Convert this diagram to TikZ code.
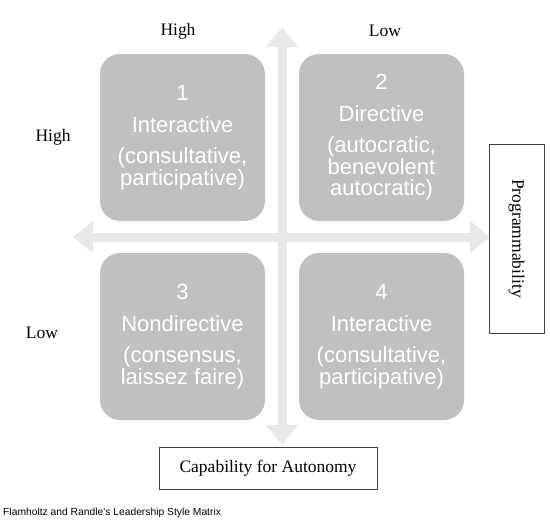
\documentclass[tikz,border=0pt]{standalone}
\usepackage{fontspec}
\setmainfont{Liberation Serif}
\setsansfont{Liberation Sans}
\usetikzlibrary{arrows.meta}
\definecolor{quadgray}{HTML}{C0C0C0}
\definecolor{axisgray}{HTML}{E8E8E8}
\definecolor{framegray}{HTML}{404040}

\begin{document}
\begin{tikzpicture}[x=1pt,y=-1pt,
    quad/.style={fill=quadgray, rounded corners=20pt, minimum width=165pt, minimum height=167pt,
      text=white, align=center, inner sep=0pt, font=\sffamily\fontsize{22}{21.5}\selectfont},
    axis/.style={draw=axisgray, line width=9pt,
      {Triangle[width=31pt,length=20pt]}-{Triangle[width=31pt,length=20pt]}},
    lbl/.style={font=\fontsize{17.5}{19}\selectfont},
    namebox/.style={draw=framegray, line width=1pt, fill=white, lbl}]
    \useasboundingbox (0,0) rectangle (550,525);

    \coordinate (vtop) at (282,27);
    \coordinate (vbot) at (282,445);
    \coordinate (hleft) at (73,237);
    \coordinate (hright) at (490,237);
    \draw[axis] (vtop) -- (vbot);
    \draw[axis] (hleft) -- (hright);

    \node[quad] (q1) at (182.5,137.5) {1\\[10pt]Interactive\\[10pt](consultative,\\participative)};
    \node[quad] (q2) at (381.5,137.5) {2\\[10pt]Directive\\[10pt](autocratic,\\benevolent\\autocratic)};
    \node[quad] (q3) at (182.5,336.5) {3\\[10pt]Nondirective\\[10pt](consensus,\\laissez faire)};
    \node[quad] (q4) at (381.5,336.5) {4\\[10pt]Interactive\\[10pt](consultative,\\participative)};

    \node[lbl] (colhigh) at (178,31) {High};
    \node[lbl] (collow) at (385,31) {Low};
    \node[lbl] (rowhigh) at (53,137) {High};
    \node[lbl] (rowlow) at (42,333) {Low};

    \node[namebox, rotate=-90, minimum width=189pt, minimum height=55pt] (prog) at (516.5,238.5) {Programmability};
    \node[namebox, minimum width=218pt, minimum height=42pt] (cap) at (268,468) {Capability for Autonomy};

    \node[anchor=west, inner sep=0pt, font=\sffamily\fontsize{10.3}{12}\selectfont] (caption) at (3,513) {Flamholtz and Randle\textquotesingle s Leadership Style Matrix};
  \end{tikzpicture}
\end{document}
